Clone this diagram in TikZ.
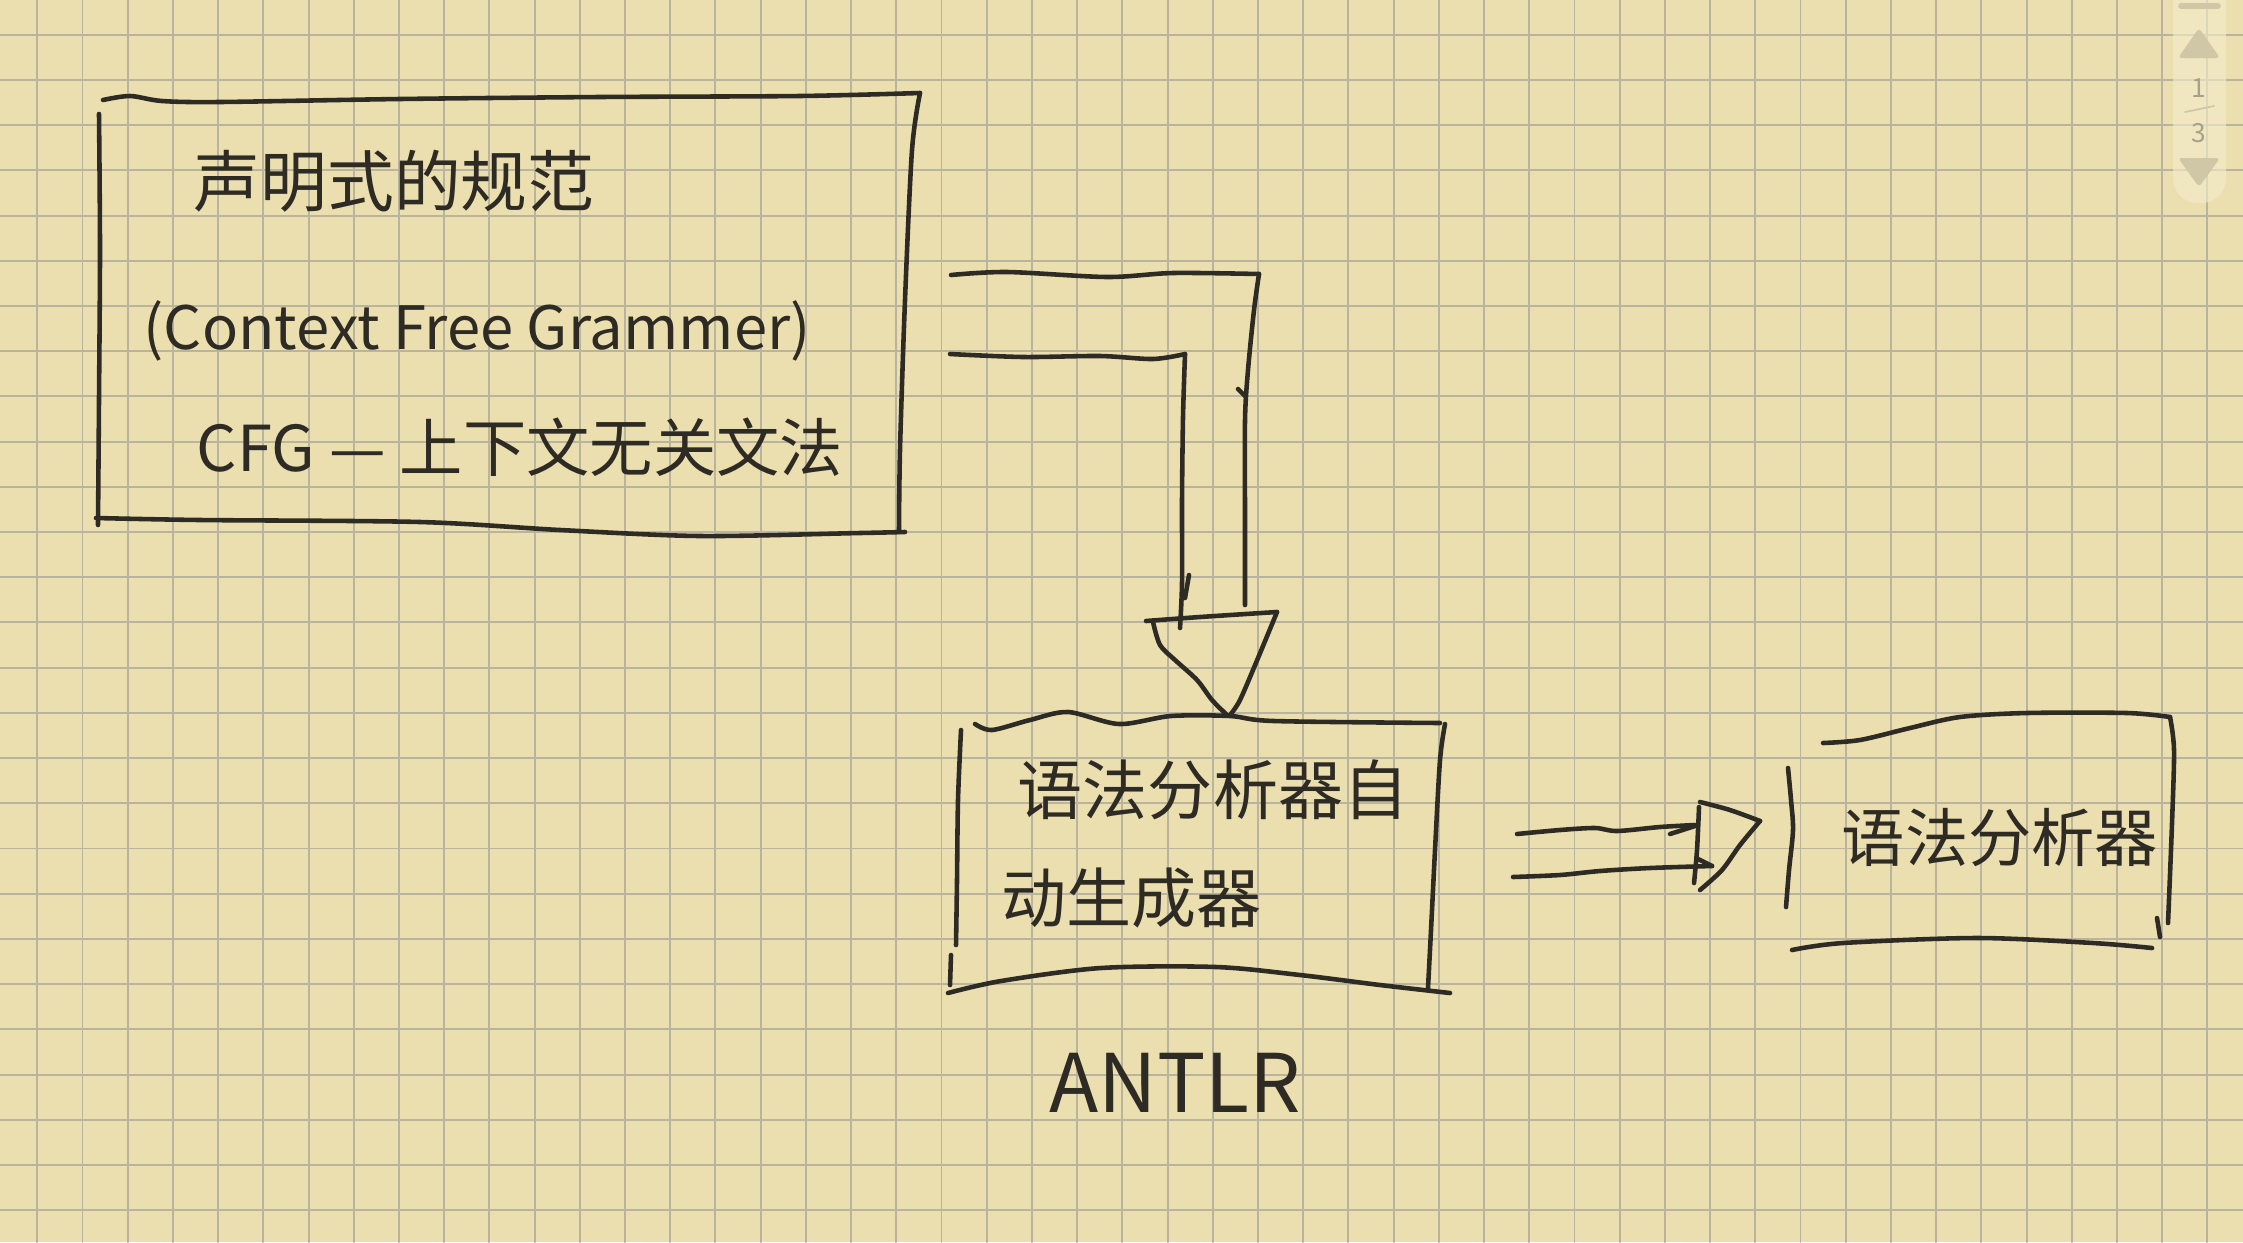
\documentclass[tikz,border=0pt]{standalone}
\usepackage{fontspec}
\setmainfont{Noto Sans CJK SC}
\usetikzlibrary{positioning}
\definecolor{paper}{HTML}{EBDFAF}
\definecolor{rule}{HTML}{B9B49F}
\definecolor{ink}{HTML}{2E2B25}
\definecolor{pale}{HTML}{F4EDCD}
\definecolor{knob}{HTML}{CFC7A5}
\definecolor{digit}{HTML}{A8A189}

\begin{document}
\begin{tikzpicture}[x=.01cm,y=-.01cm,line cap=round,line join=round,every node/.style={text=ink,inner sep=0pt},pen/.style={draw=ink,line width=1.3pt},hw/.style={font=\fontsize{#1}{#1}\selectfont},hw/.default=19,grid/.style={draw=rule,line width=.55pt}]
\path[use as bounding box,fill=paper] (0,0) rectangle (2243,1242);
\foreach \i in {0,...,48} \draw[grid] ({37.3+45.21*\i},0)--({37.3+45.21*\i},1242);
\foreach \j in {0,...,26} \draw[grid] (0,{34.7+45.21*\j})--(2243,{34.7+45.21*\j});

% first box: the grammar
\draw[pen] plot[smooth] coordinates {(103,100) (130,96) (162,101) (220,102) (400,99) (600,97) (800,96) (920,93)};
\draw[pen] plot[smooth] coordinates {(920,93) (912,150) (905,300) (900,450) (899,532)};
\draw[pen] plot[smooth] coordinates {(99,114) (100,250) (99,400) (98,525)};
\draw[pen] plot[smooth] coordinates {(96,518) (200,520) (420,522) (560,530) (700,536) (860,533) (905,532)};
\node[hw=19,anchor=west] (decl) at (193,181) {声明式的规范};
\node[hw=17,anchor=west] (cfgen) at (143,331) {(Context Free Grammer)};
\node[hw=18,anchor=west] (cfgcn) at (196,447) {CFG — 上下文无关文法};

% big bent arrow
\draw[pen] plot[smooth] coordinates {(951,275) (1007,272) (1107,277) (1173,273) (1259,274)};
\draw[pen] plot[smooth] coordinates {(1259,274) (1254,310) (1248,370) (1245,420) (1245,520) (1245,605)};
\draw[pen] (1238,389)--(1245,396);
\draw[pen] plot[smooth] coordinates {(950,354) (1023,357) (1100,356) (1153,359) (1185,354)};
\draw[pen] plot[smooth] coordinates {(1185,354) (1183,417) (1182,500) (1182,583) (1180,628)};
\draw[pen] (1189,575)--(1185,598);
\draw[pen] plot[smooth] coordinates {(1146,621) (1200,617) (1277,612)};
\draw[pen] plot[smooth] coordinates {(1153,622) (1160,645) (1175,660) (1197,680) (1212,700) (1227,715)};
\draw[pen] plot[smooth] coordinates {(1277,612) (1258,658) (1240,700) (1230,715)};

% second box: ANTLR
\draw[pen] plot[smooth] coordinates {(975,724) (992,730) (1030,720) (1068,712) (1119,724) (1171,716) (1230,716) (1274,721) (1440,723)};
\draw[pen] plot[smooth] coordinates {(1445,724) (1440,760) (1435,850) (1431,930) (1428,988)};
\draw[pen] plot[smooth] coordinates {(961,730) (958,800) (957,880) (956,945)};
\draw[pen] (951,955)--(950,985);
\draw[pen] plot[smooth] coordinates {(948,993) (1001,981) (1101,968) (1216,967) (1300,975) (1380,985) (1450,993)};
\node[hw=18.5] (gen1) at (1213,790) {语法分析器自};
\node[hw=18.5,anchor=west] (gen2) at (1001,898) {动生成器};
\node[hw=23,anchor=west] (antlr) at (1049,1083) {ANTLR};

% small arrow
\draw[pen] plot[smooth] coordinates {(1517,834) (1560,830) (1595,828) (1617,831) (1660,827) (1695,825)};
\draw[pen] (1670,834)--(1695,826);
\draw[pen] plot[smooth] coordinates {(1513,877) (1560,875) (1600,871) (1650,868) (1712,866)};
\draw[pen] (1698,859)--(1712,866);
\draw[pen] plot[smooth] coordinates {(1699,807) (1697,850) (1694,883)};
\draw[pen] plot[smooth] coordinates {(1700,802) (1730,810) (1760,821)};
\draw[pen] plot[smooth] coordinates {(1760,821) (1740,845) (1722,870) (1700,890)};

% third box: the parser
\draw[pen] plot[smooth] coordinates {(1788,768) (1791,800) (1793,830) (1789,870) (1786,907)};
\draw[pen] plot[smooth] coordinates {(1823,743) (1860,740) (1910,728) (1960,717) (2027,713) (2127,713) (2170,717)};
\draw[pen] plot[smooth] coordinates {(2170,717) (2174,750) (2172,823) (2168,923)};
\draw[pen] (2157,918)--(2160,937);
\draw[pen] plot[smooth] coordinates {(1792,950) (1843,943) (1977,938) (2093,943) (2152,948)};
\node[hw=18] (parser) at (2000,838) {语法分析器};

% page scroller
\fill[pale,fill opacity=.6,rounded corners=7pt] (2173,-20) rectangle (2226,203);
\draw[knob,line width=1.6pt] (2181,6)--(2218,6);
\fill[knob,rounded corners=1pt] (2199,28)--(2220,58)--(2178,58)--cycle;
\node[text=digit,font=\fontsize{7.5}{8}\selectfont] (pgnow) at (2199,88) {1};
\draw[knob,line width=.5pt] (2185,112)--(2214,106);
\node[text=digit,font=\fontsize{7.5}{8}\selectfont] (pgall) at (2199,133) {3};
\fill[knob,rounded corners=1pt] (2178,158)--(2220,158)--(2199,187)--cycle;
\end{tikzpicture}
\end{document}
